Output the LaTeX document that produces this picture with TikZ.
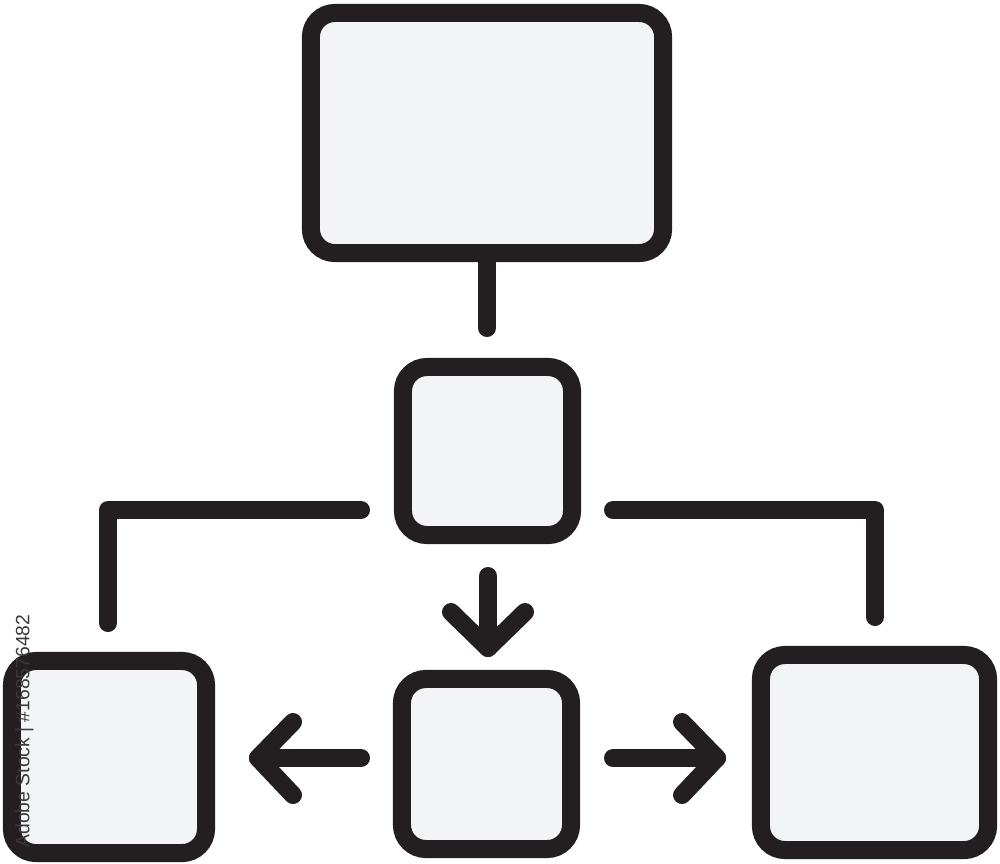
\documentclass[tikz,border=0pt]{standalone}
\usepackage{fontspec}
\setsansfont{Liberation Sans}
\definecolor{ink}{HTML}{231F20}
\definecolor{boxfill}{HTML}{F3F4F6}
\definecolor{wmgray}{HTML}{3A3A3A}
\begin{document}
\begin{tikzpicture}[x=0.01cm,y=-0.01cm,
  flowbox/.style={draw=ink, fill=boxfill, line width=0.18cm, rounded corners=0.24cm, inner sep=0pt, outer sep=0pt},
  wire/.style={draw=ink, line width=0.18cm, line cap=round, line join=round}]
\useasboundingbox (0,0) rectangle (1000,863);
% boxes
\node[flowbox, minimum width=3.52cm, minimum height=2.40cm] (top) at (487,133) {};
\node[flowbox, minimum width=1.69cm, minimum height=1.68cm] (mid) at (487.5,451) {};
\node[flowbox, minimum width=1.94cm, minimum height=1.92cm] (bl) at (109,757) {};
\node[flowbox, minimum width=1.69cm, minimum height=1.70cm] (bm) at (486.5,764) {};
\node[flowbox, minimum width=2.27cm, minimum height=1.95cm] (br) at (874.5,752.5) {};
% free ends
\coordinate (stem) at (487,328);
\coordinate (lh) at (361,510);
\coordinate (lc) at (108,510);
\coordinate (lv) at (108,623);
\coordinate (rh) at (613,510);
\coordinate (rc) at (875,510);
\coordinate (rv) at (875,617);
\coordinate (ds) at (488,576);
\coordinate (dt) at (488,648);
\coordinate (dl) at (451,612);
\coordinate (dr) at (525,612);
\coordinate (ls) at (361,758);
\coordinate (lt) at (258,758);
\coordinate (lu) at (293,722);
\coordinate (ld) at (293,795);
\coordinate (rs) at (613,758);
\coordinate (rt) at (717,758);
\coordinate (ru) at (682,722);
\coordinate (rd) at (682,795);
% connectors
\draw[wire] (top.south) -- (stem);
\draw[wire] (lh) -- (lc) -- (lv);
\draw[wire] (rh) -- (rc) -- (rv);
\draw[wire] (ds) -- (dt);
\draw[wire] (dl) -- (dt) -- (dr);
\draw[wire] (ls) -- (lt);
\draw[wire] (lu) -- (lt) -- (ld);
\draw[wire] (rs) -- (rt);
\draw[wire] (ru) -- (rt) -- (rd);
% vertical stock label
\node[rotate=90, text=wmgray, font=\sffamily\fontsize{5.5}{6.5}\selectfont, inner sep=0pt] (wm) at (24.5,731) {Adobe Stock | \#168576482};
\end{tikzpicture}
\end{document}
